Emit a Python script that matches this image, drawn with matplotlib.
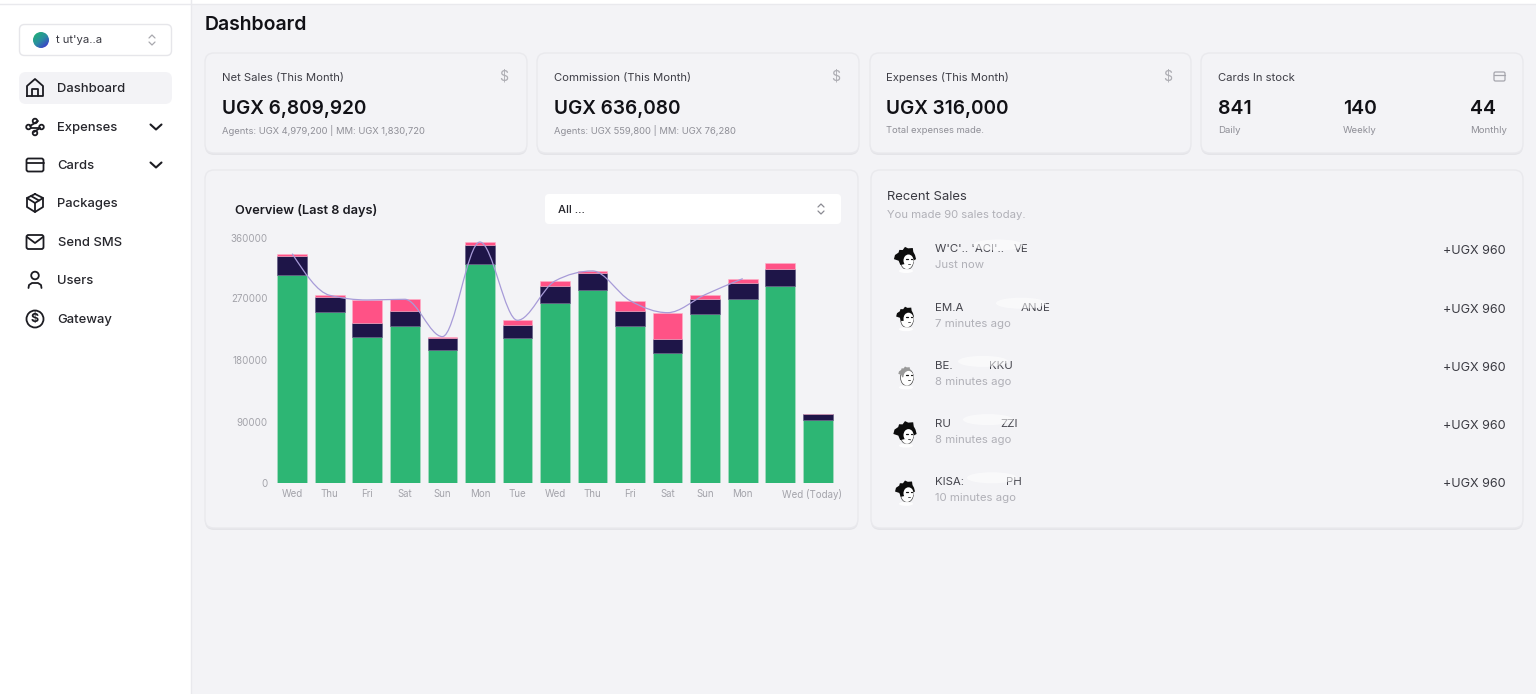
"""
Dashboard screenshot: sidebar, stat cards, overview chart, recent sales.
"""

import numpy as np
import matplotlib
matplotlib.use("Agg")
import matplotlib.pyplot as plt
from matplotlib.colors import LinearSegmentedColormap
from matplotlib.patches import Circle, Ellipse, FancyBboxPatch, Polygon, Rectangle
from matplotlib.path import Path
from matplotlib.patches import PathPatch
from matplotlib.transforms import ScaledTranslation

W, H = 1536, 694
BG = "#f3f3f6"
DARK = "#1c1c22"
GREY = "#8f8f97"
LIGHT = "#b0b0b7"

plt.rcParams["font.family"] = ["Inter", "DejaVu Sans"]

# chart data
DAYS = ["Wed", "Thu", "Fri", "Sat", "Sun", "Mon", "Tue", "Wed", "Thu", "Fri", "Sat", "Sun", "Mon", "", "Wed (Today)"]
GREEN_VALS = [304100, 249200, 212800, 229800, 193800, 320100, 211800, 262300, 281300, 229300, 190400, 247300, 268200, 287100, 92300]
NAVY_VALS = [27200, 22300, 21400, 20900, 17500, 27700, 19400, 25700, 25700, 21400, 19900, 20900, 23300, 25700, 8300]
PINK_VALS = [3400, 2400, 33000, 17500, 2400, 3900, 6300, 6800, 2400, 15500, 38400, 6800, 6800, 8300, 0]
LINE_VALS = [334700, 274000, 267200, 268200, 213800, 351700, 237600, 294900, 309500, 266200, 248700, 275000, 298300]
Y_TICKS = [0, 90000, 180000, 270000, 360000]

# page text
NAV_ITEMS = ["Dashboard", "Expenses", "Cards", "Packages", "Send SMS", "Users", "Gateway"]
NAV_Y = [88, 127, 165, 203, 242, 280, 319]
STAT_TITLES = ["Net Sales (This Month)", "Commission (This Month)", "Expenses (This Month)"]
STAT_VALUES = ["UGX 6,809,920", "UGX 636,080", "UGX 316,000"]
STAT_NOTES = ["Agents: UGX 4,979,200 | MM: UGX 1,830,720", "Agents: UGX 559,800 | MM: UGX 76,280", "Total expenses made."]
STOCK_VALUES = ["841", "140", "44"]
STOCK_LABELS = ["Daily", "Weekly", "Monthly"]
NAME_HEADS = ["W'C'.. 'ACI'..", "EM.A", "BE.", "RU", "KISA:"]
NAME_TAILS = ["VE", "ANJE", "KKU", "ZZI", "PH"]
NAME_ENDS = [1028, 1051, 1013, 1018, 1022]
SALE_TIMES = ["Just now", "7 minutes ago", "8 minutes ago", "8 minutes ago", "10 minutes ago"]


fig = plt.figure(figsize=(W / 100, H / 100), dpi=100, facecolor=BG)
ui = fig.add_axes([0, 0, 1, 1])
ui.set_xlim(0, W)
ui.set_ylim(H, 0)
ui.axis("off")


def txt(x, y, s, px=12, color=DARK, weight="normal", ha="left", ax=ui, z=6):
    ax.text(x, y + 1.3, s, fontsize=px * 0.72, color=color, fontweight=weight, ha=ha, va="center", zorder=z)


def box(x0, y0, x1, y1, r=8, fc="white", ec="none", lw=1.0, z=1):
    p = FancyBboxPatch((x0 + r, y0 + r), x1 - x0 - 2 * r, y1 - y0 - 2 * r,
                       boxstyle=f"round,pad={r},rounding_size={r}",
                       fc=fc, ec=ec, lw=lw, zorder=z)
    ui.add_patch(p)


def card(x0, y0, x1, y1):
    box(x0, y0 + 2, x1, y1 + 2, r=9, fc="#e4e4e8", z=1)
    box(x0, y0, x1, y1, r=9, fc=BG, ec="#e9e9ed", lw=1.0, z=2)


def line(xs, ys, color=DARK, lw=1.3):
    ui.plot(xs, ys, color=color, lw=lw, solid_capstyle="round", solid_joinstyle="round", zorder=5)


def ring(x, y, r, color=DARK, lw=1.3):
    ui.add_patch(Circle((x, y), r, fc="none", ec=color, lw=lw, zorder=5))


def updown(x, y, color="#8a8a92"):
    line([x - 3, x, x + 3], [y - 2, y - 5, y - 2], color, 0.9)
    line([x - 3, x, x + 3], [y + 2, y + 5, y + 2], color, 0.9)


def nav_icon(name, x, y):
    if name == "Dashboard":
        line([x - 8, x - 8, x, x + 8, x + 8, x - 8], [y + 8, y - 2, y - 9, y - 2, y + 8, y + 8])
        line([x - 3, x - 3, x + 3, x + 3], [y + 8, y + 1, y + 1, y + 8])
    elif name == "Expenses":
        line([x - 5, x + 3], [y - 1, y - 6])
        line([x - 4, x + 5], [y + 1, y + 1])
        line([x + 5, x - 1], [y + 1, y + 5])
        for cx, cy in [(x, y - 6), (x - 6.5, y), (x + 6.5, y), (x, y + 6)]:
            ring(cx, cy, 2.3)
    elif name == "Cards":
        box(x - 8.5, y - 6.5, x + 8.5, y + 6.5, r=2, fc="none", ec=DARK, lw=1.3, z=5)
        line([x - 8.5, x + 8.5], [y - 2, y - 2])
    elif name == "Packages":
        hexa = [(x, y - 9), (x + 8, y - 5), (x + 8, y + 4), (x, y + 9), (x - 8, y + 4), (x - 8, y - 5), (x, y - 9)]
        line(*zip(*hexa))
        line([x - 8, x, x + 8], [y - 5, y, y - 5])
        line([x, x], [y, y + 9])
        line([x - 4, x + 4], [y - 7, y - 2.5])
    elif name == "Send SMS":
        box(x - 8.5, y - 7, x + 8.5, y + 7, r=2, fc="none", ec=DARK, lw=1.3, z=5)
        line([x - 8, x, x + 8], [y - 5, y + 1, y - 5])
    elif name == "Users":
        ring(x, y - 4.5, 3.8)
        line([x - 6.5, x - 6, x - 3, x + 3, x + 6, x + 6.5], [y + 8, y + 5, y + 3, y + 3, y + 5, y + 8])
    else:
        ring(x, y, 8.5)
        ui.text(x, y + 0.3, "$", fontsize=9, color=DARK, ha="center", va="center", fontweight="bold", zorder=5)


def avatar(x, y, kind):
    # scruffy hair outline, then a face cut out of its lower right
    spread = [1.0, 0.8, 0.6, 1.05, 0.9][kind]
    radii = [10, 12, 10, 13, 10, 12, 9, 12, 10, 7, 8, 6, 9, 8, 11, 9]
    ang = np.linspace(0, 2 * np.pi, len(radii), endpoint=False)
    pts = [(x - 1 + r * spread * np.cos(a), y - 3 + r * spread * 0.9 * np.sin(a)) for r, a in zip(radii, ang)]
    ui.add_patch(Ellipse((x + 1, y + 3), 13, 17, fc="white", ec="#444444", lw=0.5, zorder=3))
    hair_col = "#999999" if kind == 2 else "#0d0d0d"
    ui.add_patch(Polygon(pts, closed=True, fc=hair_col, ec="none", zorder=3))
    ui.add_patch(Ellipse((x + 2.5, y + 2.5), 10, 12, fc="white", ec="none", zorder=4))
    line([x - 0.5, x + 1.5], [y + 1, y + 1], "#111111", 0.9)
    line([x + 4.5, x + 6], [y + 1, y + 1], "#111111", 0.9)
    line([x + 2, x + 4], [y + 6, y + 6], "#333333", 0.6)
    ui.add_patch(Ellipse((x, y + 13), 14, 4, fc="white", ec="none", alpha=0.9, zorder=4))


def monotone_path(xs, ys):
    # same shape as a d3 monotoneX line
    xs = np.asarray(xs, float)
    ys = np.asarray(ys, float)
    s = np.diff(ys) / np.diff(xs)
    t = np.zeros(len(xs))
    for i in range(1, len(xs) - 1):
        t[i] = (np.sign(s[i - 1]) + np.sign(s[i])) * min(abs(s[i - 1]), abs(s[i]), 0.25 * abs(s[i - 1] + s[i]))
    t[0] = (3 * s[0] - t[1]) / 2
    t[-1] = (3 * s[-1] - t[-2]) / 2
    verts = [(xs[0], ys[0])]
    codes = [Path.MOVETO]
    for i in range(len(xs) - 1):
        h = (xs[i + 1] - xs[i]) / 3
        verts += [(xs[i] + h, ys[i] + h * t[i]), (xs[i + 1] - h, ys[i + 1] - h * t[i + 1]), (xs[i + 1], ys[i + 1])]
        codes += [Path.CURVE4] * 3
    return Path(verts, codes)


# sidebar
ui.add_patch(Rectangle((0, 0), 191, H, fc="white", ec="none", zorder=1))
ui.plot([191, 191], [0, H], color="#e9e9ed", lw=1, zorder=2)
ui.add_patch(Rectangle((0, 0), W, 4, fc="white", ec="none", zorder=1))
ui.plot([0, W], [4, 4], color="#e9e9ed", lw=1, zorder=2)

box(19.5, 24.5, 171.5, 55.5, r=5, fc="white", ec="#e6e6ea", z=2)
grad = LinearSegmentedColormap.from_list("org", ["#1fb56f", "#2a8fa0", "#4327d8"])
xx, yy = np.meshgrid(np.linspace(0, 1, 40), np.linspace(0, 1, 40))
im = ui.imshow(xx * 0.45 + yy * 0.55, cmap=grad, extent=(33, 49, 48, 32), aspect="auto", zorder=3)
im.set_clip_path(Circle((41, 40), 8, transform=ui.transData))
ui.set_xlim(0, W)
ui.set_ylim(H, 0)
txt(56, 39, "t ut'ya..a", 11.3, "#3a3a42")
updown(152, 40, "#a8a8ae")

box(19, 72, 172, 104, r=7, fc=BG, z=2)
for name, y in zip(NAV_ITEMS, NAV_Y):
    nav_icon(name, 35, y)
    txt(57.5, y, name, 13, "#26262c", "medium")
    if name in ("Expenses", "Cards"):
        line([150.5, 156, 161.5], [y - 2.5, y + 2.5, y - 2.5], DARK, 1.5)

txt(205, 23.5, "Dashboard", 19.4, "#111116", "semibold")

# stat cards
for x0, x1, tx, title, value, note in zip([205, 537, 870], [527, 859, 1191], [222, 554, 885.5],
                                          STAT_TITLES, STAT_VALUES, STAT_NOTES):
    card(x0, 53, x1, 153)
    txt(tx, 76.5, title, 11.3, "#3d3d45")
    txt(tx, 107.5, value, 19, "#111116", "semibold")
    txt(tx, 129, note, 9.4, GREY)
    txt(x1 - 23, 75, "$", 14, "#adadb3", ha="center")

card(1201, 53, 1523, 153)
txt(1218, 76.5, "Cards In stock", 11.3, "#3d3d45")
box(1494, 72, 1505, 81, r=1.5, fc="none", ec="#a6a6ad", lw=0.9, z=5)
line([1494, 1505], [75, 75], "#a6a6ad", 0.9)
for x, val, lab in zip([1218, 1343, 1470], STOCK_VALUES, STOCK_LABELS):
    txt(x, 107.5, val, 19.4, "#111116", "semibold")
    txt(x, 129, lab, 9.6, GREY)

# overview card
card(205, 170, 858, 528)
txt(235, 209, "Overview (Last 8 days)", 12.8, "#1c1c22", "semibold")
box(545, 194, 841, 224, r=4, fc="white", z=3)
txt(558, 209, "All ...", 11.3, "#26262c", "medium")
updown(821, 209)

# recent sales card
card(871, 170, 1523, 528)
txt(887, 196, "Recent Sales", 13, "#3a3a42")
txt(887, 214, "You made 90 sales today.", 11.3, LIGHT)
for i, (head, tail, end, when) in enumerate(zip(NAME_HEADS, NAME_TAILS, NAME_ENDS, SALE_TIMES)):
    y = 248 + i * 58.2
    avatar(906, y + 10, i)
    txt(935, y, head, 11.5, "#44444c")
    txt(end, y, tail, 11.5, "#44444c", ha="right")
    ui.add_patch(Ellipse((end - 30, y - 3), 50, 11, fc="white", ec="none", alpha=0.55, zorder=7))
    txt(935, y + 16, when, 11.4, LIGHT)
    txt(1506, y + 2, "+UGX 960", 12.6, "#3a3a42", ha="right")

# bar chart, placed so the bars line up with the page
left, right, top, bottom = 273.4, 836.6, 236.3, 483.3
ax = fig.add_axes([left / W, 1 - bottom / H, (right - left) / W, (bottom - top) / H])
ax.patch.set_alpha(0)
x = np.arange(len(DAYS))
green = np.array(GREEN_VALS)
navy = np.array(NAVY_VALS)
pink = np.array(PINK_VALS)
ax.bar(x, green, width=0.79, color="#2db674", edgecolor="#a8dcc2", linewidth=0.5)
ax.bar(x, navy, width=0.79, bottom=green, color="#1e1548", edgecolor="#5c5580", linewidth=0.4)
ax.bar(x, pink, width=0.79, bottom=green + navy, color="#ff5286", edgecolor="#ffb0c8", linewidth=0.4)
ax.add_patch(PathPatch(monotone_path(x[:len(LINE_VALS)], LINE_VALS), fc="none", ec="#a79bd8", lw=0.9, zorder=5))
ax.set_xlim(-0.5, 14.5)
ax.set_ylim(0, 360000)
ax.set_xticks(x)
ax.set_xticklabels(DAYS)
ax.set_yticks(Y_TICKS)
ax.set_yticklabels([str(v) for v in Y_TICKS])
ax.tick_params(length=0, labelsize=7.0, labelcolor="#a3a3aa")
ax.tick_params(axis="x", pad=4)
ax.tick_params(axis="y", pad=4)
lab = ax.get_xticklabels()[-1]
lab.set_transform(lab.get_transform() + ScaledTranslation(-6 / 100, 0, fig.dpi_scale_trans))
lab = ax.get_yticklabels()[-1]
lab.set_transform(lab.get_transform() + ScaledTranslation(0, -2 / 100, fig.dpi_scale_trans))
for sp in ax.spines.values():
    sp.set_visible(False)

fig.savefig("out.png", dpi=100, facecolor=BG)
